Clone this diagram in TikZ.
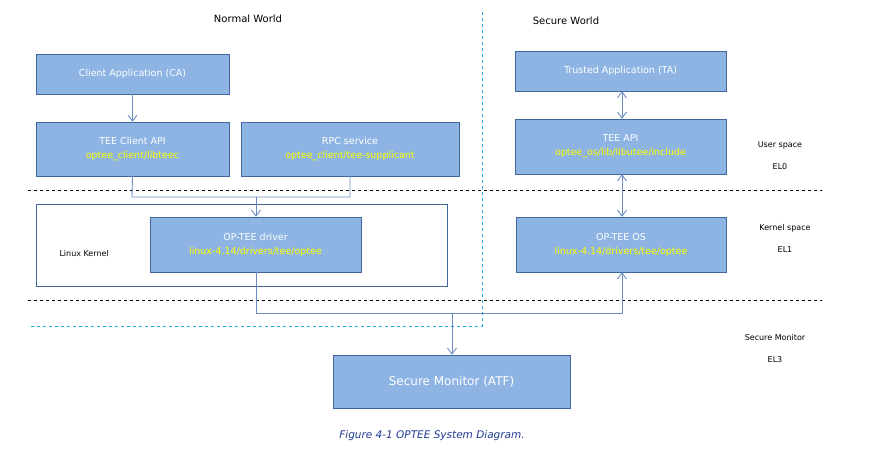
\documentclass[tikz,border=0pt]{standalone}
\usepackage{fontspec}
\setmainfont{DejaVu Sans}
\usetikzlibrary{arrows.meta}
\definecolor{bfill}{HTML}{8EB4E3}
\definecolor{bdraw}{HTML}{41689C}
\definecolor{conn}{HTML}{6A8CC4}
\definecolor{ytext}{HTML}{FFFF00}
\definecolor{cap}{HTML}{1F3A93}
\definecolor{cyanl}{HTML}{1EAAE6}
\begin{document}
\begin{tikzpicture}[x=1pt,y=-1pt,
 box/.style={draw=bdraw,fill=bfill,text=white,font=\fontsize{9.5}{16}\selectfont,align=center,inner sep=0pt},
 lab/.style={font=\fontsize{8}{10}\selectfont},
 conn/.style={draw=conn,line width=0.9pt,-{Straight Barb[length=6pt,width=9pt]}},
 dconn/.style={draw=conn,line width=0.9pt,{Straight Barb[length=6pt,width=9pt]}-{Straight Barb[length=6pt,width=9pt]}},
 y/.style={text=ytext}]
\useasboundingbox (0,0) rectangle (871,450);
\draw[dashed,line width=0.7pt] (28,190) -- (822,190);
\draw[dashed,line width=0.7pt] (28,300) -- (822,300);
\draw[cyanl,dashed,line width=0.7pt] (482,12) -- (482,326) -- (28,326);
\node[draw=bdraw,minimum width=411pt,minimum height=82pt,inner sep=0pt] (lk) at (241.5,245) {};
\node[lab,anchor=west] (lkl) at (56,254) {Linux Kernel};
\node[box,minimum width=193pt,minimum height=40pt] (ca) at (132.5,74) {Client Application (CA)};
\node[box,minimum width=193pt,minimum height=54pt] (tca) at (132.5,149) {TEE Client API\\[-2pt]\textcolor{ytext}{optee\_client/libteec}};
\node[box,minimum width=218pt,minimum height=54pt] (rpc) at (350,149) {RPC service\\[-2pt]\textcolor{ytext}{optee\_client/tee-supplicant}};
\node[box,minimum width=211pt,minimum height=55pt] (drv) at (255.5,244.5) {OP-TEE driver\\[-2pt]\textcolor{ytext}{linux-4.14/drivers/tee/optee}};
\node[box,minimum width=211pt,minimum height=40pt] (ta) at (620.5,71) {Trusted Application (TA)};
\node[box,minimum width=211pt,minimum height=55pt] (tapi) at (620.5,146.5) {TEE API\\[-2pt]\textcolor{ytext}{optee\_os/lib/libutee/include}};
\node[box,minimum width=210pt,minimum height=55pt] (os) at (621,244.5) {OP-TEE OS\\[-2pt]\textcolor{ytext}{linux-4.14/drivers/tee/optee}};
\node[box,minimum width=237pt,minimum height=53pt,font=\fontsize{12}{14}\selectfont] (sm) at (451.5,381.5) {Secure Monitor (ATF)};
\node[font=\fontsize{10}{12}\selectfont] (nw) at (248,19) {Normal World};
\node[font=\fontsize{10}{12}\selectfont] (sw) at (566,21) {Secure World};
\node[lab] (us) at (780,145) {User space};
\node[lab] (el0) at (780,167) {EL0};
\node[lab] (ks) at (785,228) {Kernel space};
\node[lab] (el1) at (785,250) {EL1};
\node[lab] (smn) at (775,338) {Secure Monitor};
\node[lab] (el3) at (775,360) {EL3};
\node[font=\itshape\fontsize{10.5}{12}\selectfont,text=cap] (capt) at (432,436) {Figure 4-1 OPTEE System Diagram.};
\coordinate (j1) at (256,197);
\coordinate (j2) at (452,313);
\draw[conn] (ca.south) -- (tca.north);
\draw[draw=conn,line width=0.9pt] (tca.south) -- (132,197) -- (350,197) -- (rpc.south);
\draw[conn] (j1) -- (drv.north -| j1);
\draw[conn] (drv.south -| j1) -- (256,313) -- (622,313) -- (os.south -| 622,0);
\draw[conn] (j2) -- (sm.north -| j2);
\draw[dconn] (ta.south -| 622,0) -- (tapi.north -| 622,0);
\draw[dconn] (tapi.south -| 622,0) -- (os.north -| 622,0);
\end{tikzpicture}
\end{document}
